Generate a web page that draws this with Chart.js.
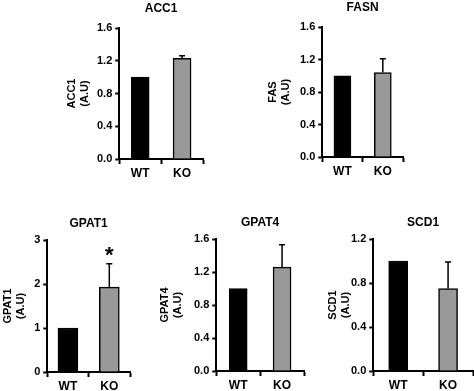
<!DOCTYPE html>
<html>
<head>
<meta charset="utf-8">
<script src="https://cdn.jsdelivr.net/npm/chart.js@4.4.1/dist/chart.umd.min.js"></script>
<style>
  html, body { margin: 0; padding: 0; background: #fff; }
  body { width: 474px; height: 391px; position: relative; overflow: hidden; }
  canvas { position: absolute; }
</style>
</head>
<body>
<canvas id="acc1"></canvas>
<canvas id="fasn"></canvas>
<canvas id="gpat1"></canvas>
<canvas id="gpat4"></canvas>
<canvas id="scd1"></canvas>
<script>
// === Data ===
const groups = ['WT', 'KO'];
const barColors = ['#000000', '#999999'];

const acc1Values = [1.0, 1.23];
const acc1Errors = [0, 0.03];
const fasnValues = [1.0, 1.04];
const fasnErrors = [0, 0.17];
const gpat1Values = [1.0, 1.93];
const gpat1Errors = [0, 0.53];
const gpat1Stars = ['', '*'];
const gpat4Values = [1.0, 1.26];
const gpat4Errors = [0, 0.27];
const scd1Values = [1.0, 0.75];
const scd1Errors = [0, 0.24];

Chart.defaults.font.family = "'Liberation Sans', Arial, sans-serif";
Chart.defaults.font.weight = 'bold';
Chart.defaults.color = '#000';

// === Error bars, asterisk and panel title ===
const panelExtras = {
  id: 'panelExtras',
  afterDatasetsDraw(chart, args, opts) {
    const ctx = chart.ctx;
    const meta = chart.getDatasetMeta(0);
    const yScale = chart.scales.y;
    const vals = chart.data.datasets[0].data;
    ctx.save();
    ctx.strokeStyle = '#000';
    ctx.lineWidth = 1.5;
    meta.data.forEach((bar, i) => {
      const err = opts.errors[i];
      if (!err) return;
      const yTop = yScale.getPixelForValue(vals[i] + err);
      ctx.beginPath();
      ctx.moveTo(bar.x, bar.y);
      ctx.lineTo(bar.x, yTop);
      ctx.moveTo(bar.x - 3, yTop);
      ctx.lineTo(bar.x + 3, yTop);
      ctx.stroke();
      if (opts.stars && opts.stars[i]) {
        ctx.fillStyle = '#000';
        ctx.font = "bold 22px 'Liberation Sans', Arial, sans-serif";
        ctx.textAlign = 'center';
        ctx.textBaseline = 'alphabetic';
        ctx.fillText(opts.stars[i], bar.x, yTop - 2);
      }
    });
    const area = chart.chartArea;
    ctx.fillStyle = '#000';
    ctx.font = "bold 12px 'Liberation Sans', Arial, sans-serif";
    ctx.textAlign = 'center';
    ctx.textBaseline = 'middle';
    ctx.fillText(opts.title, (area.left + area.right) / 2, area.top - opts.titleGap);
    ctx.restore();
  }
};

function makePanel(id, cfg) {
  const lineH = 12.5;
  const scaleLeft = cfg.labelX - lineH / 2;
  const topPad = cfg.titleGap + 10;
  const xAxisH = 28;
  const canvas = document.getElementById(id);
  canvas.width = cfg.area.right - scaleLeft + 3;
  canvas.height = topPad + (cfg.area.bottom - cfg.area.top) + xAxisH;
  canvas.style.left = scaleLeft + 'px';
  canvas.style.top = (cfg.area.top - topPad) + 'px';

  return new Chart(canvas, {
    type: 'bar',
    data: {
      labels: groups,
      datasets: [{
        data: cfg.values,
        backgroundColor: barColors,
        borderColor: '#000',
        borderWidth: 1.5,
        barThickness: cfg.barW
      }]
    },
    options: {
      responsive: false,
      animation: false,
      layout: { padding: { top: topPad, right: 3, left: 0, bottom: 0 } },
      plugins: {
        legend: { display: false },
        tooltip: { enabled: false },
        panelExtras: { errors: cfg.errors, stars: cfg.stars, title: cfg.title, titleGap: cfg.titleGap }
      },
      scales: {
        x: {
          grid: { offset: true, drawOnChartArea: false, tickLength: 5, color: '#000', tickWidth: 2 },
          border: { color: '#000', width: 2 },
          ticks: { font: { size: 12, weight: 'bold' }, padding: 2 },
          afterFit: s => { s.height = xAxisH; }
        },
        y: {
          min: 0,
          max: cfg.max,
          grid: { drawOnChartArea: false, tickLength: 4, color: '#000', tickWidth: 2 },
          border: { color: '#000', width: 2 },
          ticks: {
            stepSize: cfg.step,
            padding: 3,
            font: { size: 11, weight: 'bold' },
            callback: v => v.toFixed(cfg.decimals)
          },
          title: {
            display: true,
            text: [cfg.yLabel, '(A.U)'],
            font: { size: 11, weight: 'bold', lineHeight: 1.14 },
            padding: 0
          },
          afterFit: s => { s.width = cfg.area.left - scaleLeft; }
        }
      }
    },
    plugins: [panelExtras]
  });
}

// === INIT ===
makePanel('acc1', { title: 'ACC1', yLabel: 'ACC1', values: acc1Values, errors: acc1Errors,
  max: 1.6, step: 0.4, decimals: 1, barW: 18, labelX: 72, titleGap: 19,
  area: { left: 119, top: 28, right: 203, bottom: 159 } });
makePanel('fasn', { title: 'FASN', yLabel: 'FAS', values: fasnValues, errors: fasnErrors,
  max: 1.6, step: 0.4, decimals: 1, barW: 17, labelX: 273, titleGap: 19,
  area: { left: 322, top: 27, right: 403, bottom: 157 } });
makePanel('gpat1', { title: 'GPAT1', yLabel: 'GPAT1', values: gpat1Values, errors: gpat1Errors, stars: gpat1Stars,
  max: 3, step: 1, decimals: 0, barW: 20, labelX: 8, titleGap: 16,
  area: { left: 47, top: 240, right: 130, bottom: 372 } });
makePanel('gpat4', { title: 'GPAT4', yLabel: 'GPAT4', values: gpat4Values, errors: gpat4Errors,
  max: 1.6, step: 0.4, decimals: 1, barW: 18, labelX: 165, titleGap: 16,
  area: { left: 216, top: 239, right: 304, bottom: 371 } });
makePanel('scd1', { title: 'SCD1', yLabel: 'SCD1', values: scd1Values, errors: scd1Errors,
  max: 1.2, step: 0.4, decimals: 1, barW: 19, labelX: 333, titleGap: 16,
  area: { left: 373, top: 239, right: 473, bottom: 371 } });
</script>
</body>
</html>
